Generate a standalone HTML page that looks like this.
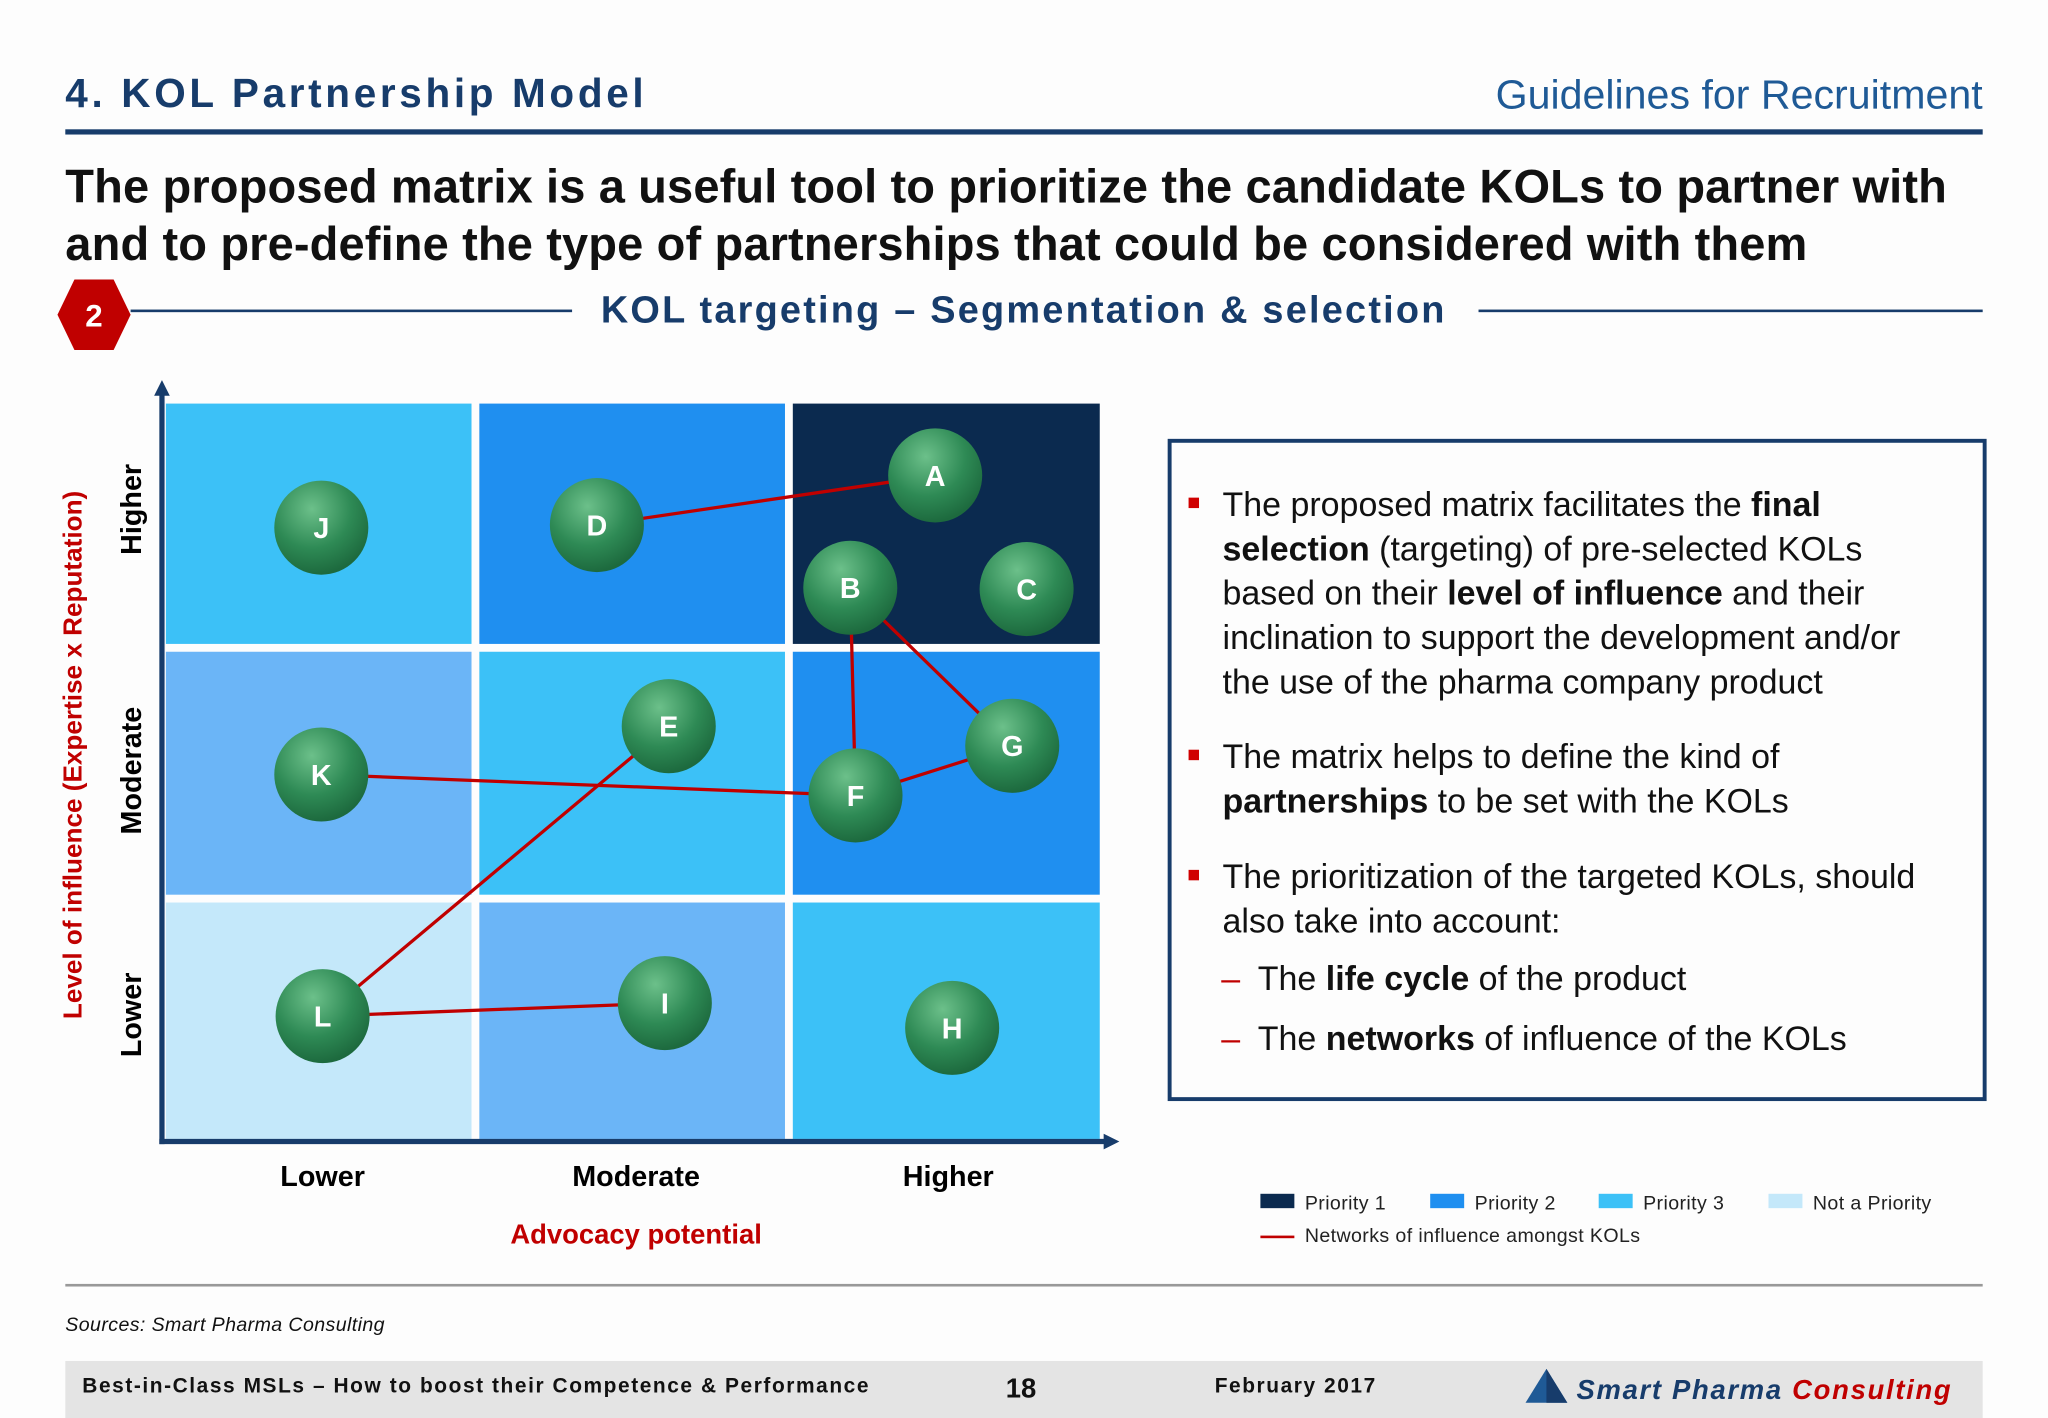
<!DOCTYPE html>
<html><head><meta charset="utf-8"><style>
html,body{margin:0;padding:0;width:2048px;height:1418px;overflow:hidden;background:#fff}
#w{position:absolute;left:0;top:0;width:1568px;height:1086px;transform:scale(1.30612);transform-origin:0 0;font-family:"Liberation Sans",sans-serif;background:#fdfdfd}
.a{position:absolute;white-space:nowrap}
.cell{position:absolute}
.bul{position:absolute;left:936px;font-size:26px;line-height:34px;color:#111;width:560px}
.sq{position:absolute;left:910px;width:8px;height:8px;background:#d00000}
.yl{position:absolute;font-weight:bold;font-size:22px;transform:translate(-50%,-50%) rotate(-90deg)}
.xl{position:absolute;font-weight:bold;font-size:22px;transform:translateX(-50%)}
.lg{position:absolute;font-size:15px;color:#222;letter-spacing:0.3px}
.sw{position:absolute;width:26px;height:11px}
</style></head><body><div id="w">
<div class="a" style="left:50px;top:54px;font-size:31px;font-weight:bold;color:#173c6b;letter-spacing:2.8px">4. KOL Partnership Model</div>
<div class="a" style="right:50px;top:54px;font-size:31.5px;color:#1f5a96">Guidelines for Recruitment</div>
<div class="a" style="left:50px;top:99px;width:1468px;height:4px;background:#173c6b"></div>
<div class="a" style="left:50px;top:121px;font-size:36px;font-weight:bold;line-height:44px;color:#111;letter-spacing:0.1px">The proposed matrix is a useful tool to prioritize the candidate KOLs to partner with<br>and to pre-define the type of partnerships that could be considered with them</div>
<svg class="a" style="left:42px;top:212px" width="60" height="58"><polygon points="15,2 45,2 58,29 45,56 15,56 2,29" fill="#c00000"/><text x="30" y="38" font-size="24" font-weight="bold" fill="#fff" text-anchor="middle" font-family="Liberation Sans">2</text></svg>
<div class="a" style="left:100px;top:237px;width:338px;height:2px;background:#173c6b"></div>
<div class="a" style="left:460px;top:222px;font-size:29px;font-weight:bold;color:#173c6b;letter-spacing:1.7px">KOL targeting – Segmentation &amp; selection</div>
<div class="a" style="left:1132px;top:237px;width:386px;height:2px;background:#173c6b"></div>

<div class="cell" style="left:127px;top:309px;width:234px;height:184px;background:#3cc1f7"></div>
<div class="cell" style="left:367px;top:309px;width:234px;height:184px;background:#1f8ff0"></div>
<div class="cell" style="left:607px;top:309px;width:235px;height:184px;background:#0b2a4f"></div>
<div class="cell" style="left:127px;top:499px;width:234px;height:186px;background:#6bb5f7"></div>
<div class="cell" style="left:367px;top:499px;width:234px;height:186px;background:#3cc1f7"></div>
<div class="cell" style="left:607px;top:499px;width:235px;height:186px;background:#1f8ff0"></div>
<div class="cell" style="left:127px;top:691px;width:234px;height:181px;background:#c4e8fa"></div>
<div class="cell" style="left:367px;top:691px;width:234px;height:181px;background:#6bb5f7"></div>
<div class="cell" style="left:607px;top:691px;width:235px;height:181px;background:#3cc1f7"></div>

<svg class="a" style="left:0;top:0" width="1568" height="1086">
<defs><radialGradient id="g" cx="40%" cy="30%" r="70%"><stop offset="0" stop-color="#6cc08a"/><stop offset="0.6" stop-color="#2e8a55"/><stop offset="1" stop-color="#1d6a3e"/></radialGradient></defs>
<line x1="124" y1="300" x2="124" y2="876" stroke="#173c6b" stroke-width="4"/>
<polygon points="124,291 118,303 130,303" fill="#173c6b"/>
<line x1="122" y1="874" x2="848" y2="874" stroke="#173c6b" stroke-width="4"/>
<polygon points="857,874 845,868 845,880" fill="#173c6b"/>
<g stroke="#c00000" stroke-width="2.5">
<line x1="457" y1="402" x2="716" y2="364"/><line x1="651" y1="450" x2="655" y2="609"/><line x1="651" y1="450" x2="775" y2="571"/>
<line x1="246" y1="593" x2="655" y2="609"/><line x1="655" y1="609" x2="775" y2="571"/><line x1="247" y1="778" x2="512" y2="556"/><line x1="247" y1="778" x2="509" y2="768"/>
</g>
<g font-family="Liberation Sans" font-size="22" font-weight="bold" fill="#fff" text-anchor="middle">
<g><circle cx="246" cy="404" r="36" fill="url(#g)"/><text x="246" y="412">J</text></g>
<g><circle cx="457" cy="402" r="36" fill="url(#g)"/><text x="457" y="410">D</text></g>
<g><circle cx="716" cy="364" r="36" fill="url(#g)"/><text x="716" y="372">A</text></g>
<g><circle cx="651" cy="450" r="36" fill="url(#g)"/><text x="651" y="458">B</text></g>
<g><circle cx="786" cy="451" r="36" fill="url(#g)"/><text x="786" y="459">C</text></g>
<g><circle cx="512" cy="556" r="36" fill="url(#g)"/><text x="512" y="564">E</text></g>
<g><circle cx="775" cy="571" r="36" fill="url(#g)"/><text x="775" y="579">G</text></g>
<g><circle cx="246" cy="593" r="36" fill="url(#g)"/><text x="246" y="601">K</text></g>
<g><circle cx="655" cy="609" r="36" fill="url(#g)"/><text x="655" y="617">F</text></g>
<g><circle cx="247" cy="778" r="36" fill="url(#g)"/><text x="247" y="786">L</text></g>
<g><circle cx="509" cy="768" r="36" fill="url(#g)"/><text x="509" y="776">I</text></g>
<g><circle cx="729" cy="787" r="36" fill="url(#g)"/><text x="729" y="795">H</text></g>
</g></svg>

<div class="yl" style="left:101px;top:390px">Higher</div>
<div class="yl" style="left:101px;top:590px">Moderate</div>
<div class="yl" style="left:101px;top:777px">Lower</div>
<div class="yl" style="left:57px;top:578px;color:#c00000;font-size:20px">Level of influence (Expertise x Reputation)</div>
<div class="xl" style="left:247px;top:888px">Lower</div>
<div class="xl" style="left:487px;top:888px">Moderate</div>
<div class="xl" style="left:726px;top:888px">Higher</div>
<div class="xl" style="left:487px;top:934px;color:#c00000;font-size:21px">Advocacy potential</div>

<div class="a" style="left:894px;top:336px;width:621px;height:501px;border:3px solid #173c6b"></div>
<div class="sq" style="top:381px"></div>
<div class="bul" style="top:369px">The proposed matrix facilitates the <b>final</b><br><b>selection</b> (targeting) of pre-selected KOLs based on their <b>level of influence</b> and their inclination to support the development and/or the use of the pharma company product</div>
<div class="sq" style="top:574px"></div>
<div class="bul" style="top:562px">The matrix helps to define the kind of <b>partnerships</b> to be set with the KOLs</div>
<div class="sq" style="top:666px"></div>
<div class="bul" style="top:654px;width:580px">The prioritization of the targeted KOLs, should also take into account:</div>
<div class="a" style="left:935px;top:734px;font-size:26px;color:#c00000">–</div>
<div class="a" style="left:963px;top:734px;font-size:26px;color:#111">The <b>life cycle</b> of the product</div>
<div class="a" style="left:935px;top:780px;font-size:26px;color:#c00000">–</div>
<div class="a" style="left:963px;top:780px;font-size:26px;color:#111">The <b>networks</b> of influence of the KOLs</div>

<div class="sw" style="left:965px;top:914px;background:#0b2a4f"></div><div class="lg" style="left:999px;top:913px">Priority 1</div>
<div class="sw" style="left:1095px;top:914px;background:#1f8ff0"></div><div class="lg" style="left:1129px;top:913px">Priority 2</div>
<div class="sw" style="left:1224px;top:914px;background:#3cc1f7"></div><div class="lg" style="left:1258px;top:913px">Priority 3</div>
<div class="sw" style="left:1354px;top:914px;background:#c4e8fa"></div><div class="lg" style="left:1388px;top:913px">Not a Priority</div>
<div class="a" style="left:965px;top:946px;width:26px;height:2px;background:#c00000"></div><div class="lg" style="left:999px;top:938px">Networks of influence amongst KOLs</div>

<div class="a" style="left:50px;top:983px;width:1468px;height:2px;background:#999"></div>
<div class="a" style="left:50px;top:1006px;font-size:15px;font-style:italic;color:#111;letter-spacing:0.3px">Sources: Smart Pharma Consulting</div>
<div class="a" style="left:50px;top:1042px;width:1468px;height:44px;background:#e4e4e4"></div>
<div class="a" style="left:63px;top:1053px;font-size:16px;font-weight:bold;color:#111;letter-spacing:1.2px">Best-in-Class MSLs – How to boost their Competence &amp; Performance</div>
<div class="a" style="left:770px;top:1052px;font-size:21px;font-weight:bold;color:#111">18</div>
<div class="a" style="left:930px;top:1053px;font-size:16px;font-weight:bold;color:#111;letter-spacing:1.2px">February 2017</div>
<svg class="a" style="left:1166px;top:1046px" width="36" height="30"><polygon points="18,2 34,28 2,28" fill="#1f5a96"/><polygon points="18,2 34,28 18,28" fill="#173c6b"/></svg>
<div class="a" style="left:1207px;top:1053px;font-size:21px;font-weight:bold;font-style:italic;letter-spacing:1.3px"><span style="color:#173c6b">Smart Pharma</span> <span style="color:#c00000">Consulting</span></div>
</div></body></html>
